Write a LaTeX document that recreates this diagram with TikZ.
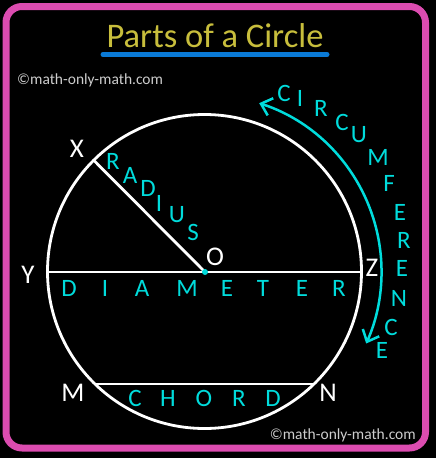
\documentclass[tikz,border=0pt]{standalone}
\usepackage{fontspec}
\setmainfont{Carlito}
\usetikzlibrary{arrows.meta}
\definecolor{pinkb}{RGB}{220,76,176}
\definecolor{titlec}{RGB}{200,190,60}
\definecolor{ulc}{RGB}{10,122,214}
\definecolor{cyanl}{RGB}{0,220,220}
\definecolor{wm}{RGB}{205,205,205}
\tikzset{
  lbl/.style={text=white,font=\fontsize{27}{27}\selectfont,inner sep=0pt},
  cl/.style={text=cyanl,font=\fontsize{25}{25}\selectfont,inner sep=0pt},
  wml/.style={text=wm,font=\fontsize{15.5}{15.5}\selectfont,inner sep=0pt},
  wline/.style={draw=white,line width=2.8pt},
}
\begin{document}
\begin{tikzpicture}[x=1pt,y=-1pt]
\useasboundingbox (0,0) rectangle (436,458);
\fill[black] (0,0) rectangle (436,458);
\draw[pinkb,line width=7pt,rounded corners=16pt] (6,6.5) rectangle (425.5,448);
% title
\node[text=titlec,font=\fontsize{34.5}{34.5}\selectfont,inner sep=0pt,anchor=base] (title) at (215,47) {Parts of a Circle};
\draw[ulc,line width=5pt,line cap=round] (103,54.5) -- (327,54.5);
\node[wml,anchor=base west] (wm1) at (17,84) {©math-only-math.com};
\node[wml,anchor=base east] (wm2) at (416,439) {©math-only-math.com};
% circle
\coordinate (O) at (204.5,271.5);
\draw[wline] (O) circle[radius=157];
\coordinate (Xp) at (93,159.5);
\coordinate (Yp) at (47.5,272);
\coordinate (Zp) at (361.5,272);
\coordinate (Mp) at (96,384);
\coordinate (Np) at (313,384);
\draw[wline] (Yp) -- (Zp);
\draw[wline] (Xp) -- (O);
\draw[wline] (Mp) -- (Np);
\fill[cyanl] (205,272) circle[radius=3];
% arc arrow
\draw[cyanl,line width=2.5pt,{Straight Barb[length=10pt,width=18pt]}-{Straight Barb[length=10pt,width=18pt]}]
  (O) ++(-72:177) arc[start angle=-72,end angle=24,radius=177];
% labels
\node[lbl] (X) at (77,149) {X};
\node[lbl] (Y) at (28,275) {Y};
\node[lbl] (Olbl) at (215,257) {O};
\node[lbl] (Z) at (372,268) {Z};
\node[lbl] (M) at (73,393) {M};
\node[lbl] (N) at (328,393) {N};
% radius
\node[cl] (r1) at (113,161) {R};
\node[cl] (r2) at (130,175) {A};
\node[cl] (r3) at (148,188) {D};
\node[cl] (r4) at (159,203) {I};
\node[cl] (r5) at (177,215) {U};
\node[cl] (r6) at (193,232) {S};
% diameter
\node[cl] (d1) at (69,288) {D};
\node[cl] (d2) at (105,288) {I};
\node[cl] (d3) at (142,288) {A};
\node[cl] (d4) at (187,288) {M};
\node[cl] (d5) at (227,288) {E};
\node[cl] (d6) at (263,288) {T};
\node[cl] (d7) at (302,288) {E};
\node[cl] (d8) at (339,288) {R};
% chord
\node[cl] (c1) at (135,398) {C};
\node[cl] (c2) at (168,398) {H};
\node[cl] (c3) at (204,398) {O};
\node[cl] (c4) at (239,398) {R};
\node[cl] (c5) at (273,398) {D};
% circumference
\node[cl] (f1) at (284,93) {C};
\node[cl] (f2) at (300,98) {I};
\node[cl] (f3) at (321,108) {R};
\node[cl] (f4) at (342,122) {C};
\node[cl] (f5) at (359,135) {U};
\node[cl] (f6) at (378,157) {M};
\node[cl] (f7) at (389,183) {F};
\node[cl] (f8) at (400,212) {E};
\node[cl] (f9) at (404,240) {R};
\node[cl] (f10) at (402,268) {E};
\node[cl] (f11) at (399,298) {N};
\node[cl] (f12) at (391,327) {C};
\node[cl] (f13) at (382,350) {E};
\end{tikzpicture}
\end{document}
